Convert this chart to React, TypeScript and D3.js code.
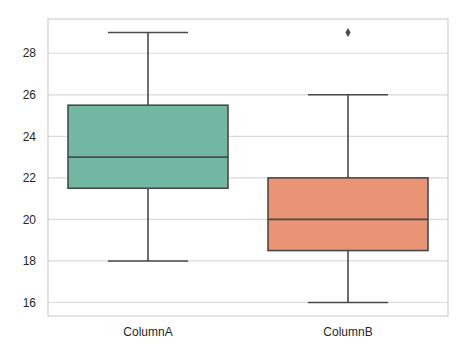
import React, { useEffect, useRef } from 'react'
import * as d3 from 'd3'

const categories = ['ColumnA', 'ColumnB']
const whiskerLow = [18, 16]
const q1 = [21.5, 18.5]
const median = [23, 20]
const q3 = [25.5, 22]
const whiskerHigh = [29, 26]
const outliers = [[], [29]]
const colors = ['#71b7a1', '#e99575']
const yTicks = [16, 18, 20, 22, 24, 26, 28]

const W = 474
const H = 351
const marge = { top: 19, right: 26, bottom: 35, left: 48 }

export default function App() {
  const ref = useRef<SVGSVGElement>(null)

  useEffect(() => {
    const svg = d3.select(ref.current)
    svg.selectAll('*').remove()
    const iw = W - marge.left - marge.right
    const ih = H - marge.top - marge.bottom
    const g = svg.append('g').attr('transform', `translate(${marge.left},${marge.top})`)

    const x = d3.scaleLinear().domain([-0.5, 1.5]).range([0, iw])
    const y = d3.scaleLinear().domain([15.35, 29.65]).range([ih, 0])
    const font = 'Liberation Sans, Arial, sans-serif'
    const lineCol = '#4a4a4a'

    g.selectAll('line.grid')
      .data(yTicks)
      .enter()
      .append('line')
      .attr('x1', 0)
      .attr('x2', iw)
      .attr('y1', d => y(d))
      .attr('y2', d => y(d))
      .attr('stroke', '#dadada')
      .attr('stroke-width', 1.2)

    g.selectAll('text.ytick')
      .data(yTicks)
      .enter()
      .append('text')
      .attr('x', -12)
      .attr('y', d => y(d))
      .attr('dy', '0.35em')
      .attr('text-anchor', 'end')
      .attr('font-family', font)
      .attr('font-size', 12)
      .attr('fill', '#262626')
      .text(d => d)

    g.selectAll('text.xtick')
      .data(categories)
      .enter()
      .append('text')
      .attr('x', (d, i) => x(i))
      .attr('y', ih + 20)
      .attr('text-anchor', 'middle')
      .attr('font-family', font)
      .attr('font-size', 12)
      .attr('fill', '#262626')
      .text(d => d)

    const bw = x(0.4) - x(0)
    categories.forEach((c, i) => {
      const cx = x(i)
      const b = g.append('g')
      b.append('line').attr('x1', cx).attr('x2', cx).attr('y1', y(q3[i])).attr('y2', y(whiskerHigh[i]))
        .attr('stroke', lineCol).attr('stroke-width', 1.6)
      b.append('line').attr('x1', cx).attr('x2', cx).attr('y1', y(q1[i])).attr('y2', y(whiskerLow[i]))
        .attr('stroke', lineCol).attr('stroke-width', 1.6)
      b.append('line').attr('x1', cx - bw / 2).attr('x2', cx + bw / 2).attr('y1', y(whiskerHigh[i])).attr('y2', y(whiskerHigh[i]))
        .attr('stroke', lineCol).attr('stroke-width', 1.6)
      b.append('line').attr('x1', cx - bw / 2).attr('x2', cx + bw / 2).attr('y1', y(whiskerLow[i])).attr('y2', y(whiskerLow[i]))
        .attr('stroke', lineCol).attr('stroke-width', 1.6)
      b.append('rect')
        .attr('x', cx - bw)
        .attr('y', y(q3[i]))
        .attr('width', bw * 2)
        .attr('height', y(q1[i]) - y(q3[i]))
        .attr('fill', colors[i])
        .attr('stroke', lineCol)
        .attr('stroke-width', 1.6)
      b.append('line').attr('x1', cx - bw).attr('x2', cx + bw).attr('y1', y(median[i])).attr('y2', y(median[i]))
        .attr('stroke', lineCol).attr('stroke-width', 1.6)
      b.selectAll('path.out')
        .data(outliers[i])
        .enter()
        .append('path')
        .attr('d', d3.symbol().type(d3.symbolDiamond).size(24))
        .attr('transform', d => `translate(${cx},${y(d)})`)
        .attr('fill', lineCol)
    })

    g.append('rect')
      .attr('x', 0)
      .attr('y', 0)
      .attr('width', iw)
      .attr('height', ih)
      .attr('fill', 'none')
      .attr('stroke', '#d0d0d0')
      .attr('stroke-width', 1.2)
  }, [])

  return (
    <svg ref={ref} width={W} height={H} style={{ position: 'absolute', left: 0, top: 0, background: '#fff' }} />
  )
}
